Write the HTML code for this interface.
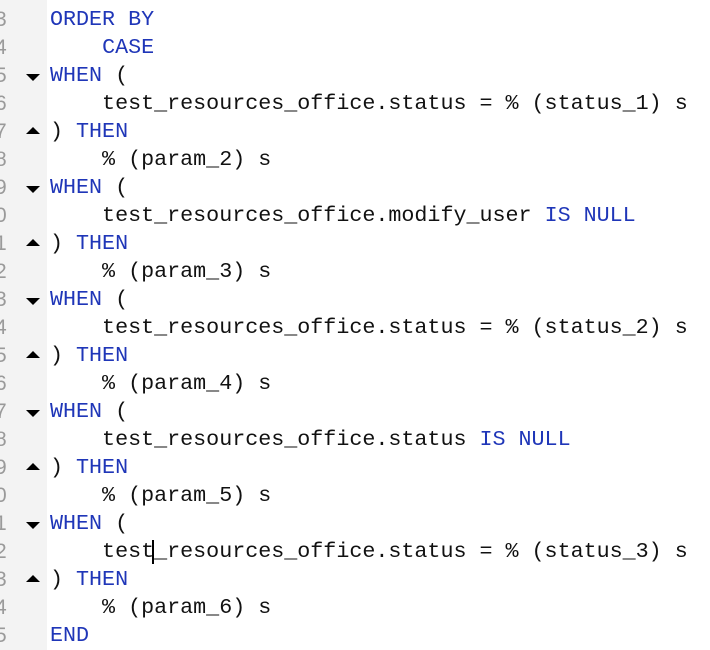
<!DOCTYPE html>
<html><head><style>
html,body{margin:0;padding:0;width:710px;height:650px;overflow:hidden;background:#fff;}
.g{position:absolute;left:0;top:0;width:47px;height:650px;background:#f3f3f3;}
.l{position:absolute;left:0;height:28px;line-height:28px;font-family:"Liberation Mono",monospace;font-size:21.7px;white-space:pre;color:#111;}
.n{position:absolute;left:-5px;height:28px;line-height:28px;font-family:"Liberation Sans",sans-serif;font-size:21px;color:#9a9a9a;}
.c{left:50px;}
.k{color:#1f36b8;}
.t{position:absolute;left:26px;width:0;height:0;border-left:7px solid transparent;border-right:7px solid transparent;}
.dn{border-top:7px solid #000;}
.up{border-bottom:7px solid #000;}
</style></head><body>
<div class="g"></div>
<div class="l c" style="top:-22px;color:#ddd">    test_resources_office...</div>

<div class="n" style="top:6px">3</div><div class="l c" style="top:6px"><span class="k">ORDER BY</span></div>
<div class="n" style="top:34px">4</div><div class="l c" style="top:34px">    <span class="k">CASE</span></div>
<div class="n" style="top:62px">5</div><div class="t dn" style="top:74px"></div><div class="l c" style="top:62px"><span class="k">WHEN</span> (</div>
<div class="n" style="top:90px">6</div><div class="l c" style="top:90px">    test_resources_office.status = % (status_1) s</div>
<div class="n" style="top:118px">7</div><div class="t up" style="top:127px"></div><div class="l c" style="top:118px">) <span class="k">THEN</span></div>
<div class="n" style="top:146px">8</div><div class="l c" style="top:146px">    % (param_2) s</div>
<div class="n" style="top:174px">9</div><div class="t dn" style="top:186px"></div><div class="l c" style="top:174px"><span class="k">WHEN</span> (</div>
<div class="n" style="top:202px">0</div><div class="l c" style="top:202px">    test_resources_office.modify_user <span class="k">IS NULL</span></div>
<div class="n" style="top:230px">1</div><div class="t up" style="top:239px"></div><div class="l c" style="top:230px">) <span class="k">THEN</span></div>
<div class="n" style="top:258px">2</div><div class="l c" style="top:258px">    % (param_3) s</div>
<div class="n" style="top:286px">3</div><div class="t dn" style="top:298px"></div><div class="l c" style="top:286px"><span class="k">WHEN</span> (</div>
<div class="n" style="top:314px">4</div><div class="l c" style="top:314px">    test_resources_office.status = % (status_2) s</div>
<div class="n" style="top:342px">5</div><div class="t up" style="top:351px"></div><div class="l c" style="top:342px">) <span class="k">THEN</span></div>
<div class="n" style="top:370px">6</div><div class="l c" style="top:370px">    % (param_4) s</div>
<div class="n" style="top:398px">7</div><div class="t dn" style="top:410px"></div><div class="l c" style="top:398px"><span class="k">WHEN</span> (</div>
<div class="n" style="top:426px">8</div><div class="l c" style="top:426px">    test_resources_office.status <span class="k">IS NULL</span></div>
<div class="n" style="top:454px">9</div><div class="t up" style="top:463px"></div><div class="l c" style="top:454px">) <span class="k">THEN</span></div>
<div class="n" style="top:482px">0</div><div class="l c" style="top:482px">    % (param_5) s</div>
<div class="n" style="top:510px">1</div><div class="t dn" style="top:522px"></div><div class="l c" style="top:510px"><span class="k">WHEN</span> (</div>
<div class="n" style="top:538px">2</div><div class="l c" style="top:538px">    test_resources_office.status = % (status_3) s</div>
<div style="position:absolute;left:152px;top:540px;width:2px;height:24px;background:#000"></div>
<div class="n" style="top:566px">3</div><div class="t up" style="top:575px"></div><div class="l c" style="top:566px">) <span class="k">THEN</span></div>
<div class="n" style="top:594px">4</div><div class="l c" style="top:594px">    % (param_6) s</div>
<div class="n" style="top:622px">5</div><div class="l c" style="top:622px"><span class="k">END</span></div>
</body></html>
